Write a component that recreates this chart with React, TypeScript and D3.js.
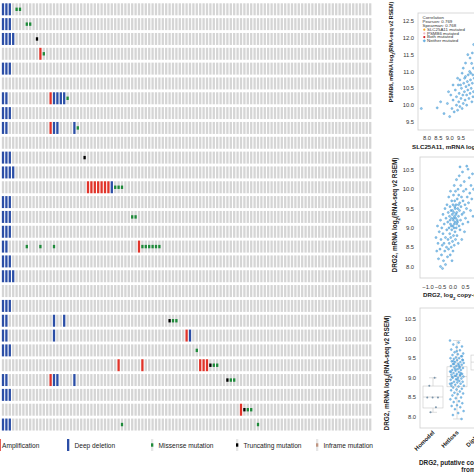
import React from "react";
import * as d3 from "d3";

const N_ROWS = 29;
const N_COLS = 109;

// oncoprint: columns altered in each gene row
const deepDeletion: number[][] = [
  [0, 1, 2], [0, 1, 2], [0, 1, 2, 3], [], [0, 1, 2], [], [0, 1, 15, 16, 17, 18], [0, 1, 2],
  [0, 1, 15, 16, 21], [], [0, 1, 2], [0, 1, 2, 3], [32], [0, 1, 2], [0, 1, 2], [0, 1, 2],
  [0, 1], [0, 1, 2], [0, 1, 2, 3], [], [0, 1, 2], [0, 1, 15, 18], [0, 1, 15, 55], [0, 1, 2],
  [], [0, 1, 15, 16, 21], [0, 1, 2], [], [0, 1, 2],
];
const amplification: number[][] = [
  [], [], [], [11], [], [], [14], [], [14], [], [], [], [25, 26, 27, 28, 29, 30, 31], [], [], [],
  [40], [], [], [], [], [], [54], [], [34, 41, 58, 59, 60], [14], [], [70], [],
];
const missense: number[][] = [
  [4, 5], [7, 8], [], [12], [], [], [19], [], [22], [], [], [], [33, 34, 35], [], [38, 39], [],
  [7, 11, 15, 41, 42, 43, 44, 45, 46], [], [], [], [], [50, 51], [], [57], [62, 63], [67, 68], [], [72, 73], [35, 75],
];
const truncating: number[][] = [
  [], [], [10], [], [], [], [], [], [], [], [24], [], [], [], [], [],
  [], [], [], [], [], [49], [], [], [61], [66], [], [71], [],
];

const legendLabels = ["Amplification", "Deep deletion", "Missense mutation", "Truncating mutation", "Inframe mutation"];

// panel 1: SLC25A11 vs PSMB6 mRNA
const psmb6Points: [number, number][] = [
  [7.75, 9.9], [8.45, 9.92], [8.6, 10.1], [8.75, 9.75], [8.9, 10.05], [9.0, 9.66], [9.05, 10.3], [9.1, 9.9],
  [9.15, 10.15], [9.2, 9.8], [9.25, 10.45], [9.3, 10.0], [9.3, 10.25], [9.35, 9.85], [9.38, 10.6], [9.4, 10.1],
  [9.42, 10.35], [9.45, 9.96], [9.45, 10.75], [9.5, 10.2], [9.52, 10.5], [9.55, 9.9], [9.58, 10.3], [9.6, 10.05],
  [9.62, 10.65], [9.65, 10.4], [9.68, 10.15], [9.7, 10.85], [9.72, 10.55], [9.75, 10.0], [9.75, 10.3], [9.78, 10.7],
  [9.8, 10.45], [9.82, 10.9], [9.85, 10.2], [9.85, 10.6], [9.88, 11.0], [9.9, 10.35], [9.92, 10.75], [9.95, 10.5],
  [9.97, 11.24], [9.98, 10.1], [10.0, 10.65], [10.02, 10.9], [10.05, 10.4], [10.05, 11.1], [10.08, 10.8], [9.6, 11.1],
  [9.9, 11.4], [9.35, 10.8], [9.15, 10.6], [8.95, 10.4], [9.55, 10.95], [9.7, 11.25], [10.0, 11.55], [10.06, 11.8],
  [9.8, 11.5], [10.03, 10.25], [9.93, 10.95], [9.66, 10.8], [9.48, 10.6],
];
const psmb6YTicks = [9.5, 10.0, 10.5, 11.0, 11.5, 12.0, 12.5];
const slcXTicks = [8.0, 8.5, 9.0, 9.5];
const corrLines = ["Correlation", "Pearson: 0.769", "Spearman: 0.768"];
const mutLegend = ["SLC25A11 mutated", "PSMB6 mutated", "Both mutated", "Neither mutated"];

// panel 2: DRG2 copy number vs DRG2 mRNA
const drg2Points: [number, number][] = [
  [-0.68, 8.75], [-0.65, 8.4], [-0.62, 9.05], [-0.6, 8.6], [-0.58, 8.2], [-0.55, 8.9], [-0.52, 8.45], [-0.5, 9.2],
  [-0.5, 8.0], [-0.48, 8.7], [-0.46, 8.3], [-0.45, 9.0], [-0.43, 8.55], [-0.42, 7.95], [-0.4, 9.35], [-0.4, 8.85],
  [-0.38, 8.15], [-0.36, 8.6], [-0.35, 9.1], [-0.33, 8.4], [-0.32, 9.5], [-0.3, 8.75], [-0.3, 8.05], [-0.28, 9.25],
  [-0.26, 8.5], [-0.25, 8.95], [-0.24, 9.6], [-0.22, 8.25], [-0.21, 9.15], [-0.2, 8.7], [-0.19, 9.4], [-0.18, 8.45],
  [-0.17, 9.8], [-0.16, 9.0], [-0.15, 8.6], [-0.14, 9.3], [-0.13, 8.85], [-0.12, 9.55], [-0.11, 8.3], [-0.1, 9.1],
  [-0.1, 9.95], [-0.09, 8.75], [-0.08, 9.45], [-0.07, 8.5], [-0.06, 9.25], [-0.05, 9.7], [-0.05, 8.95], [-0.04, 8.15],
  [-0.03, 9.35], [-0.02, 8.65], [-0.01, 9.05], [0.0, 9.6], [0.0, 8.4], [0.01, 9.2], [0.02, 9.85], [0.02, 8.8],
  [0.03, 9.4], [0.04, 9.0], [0.05, 10.1], [0.05, 8.55], [0.06, 9.3], [0.07, 9.7], [0.08, 8.9], [0.08, 9.15],
  [0.09, 9.5], [0.1, 8.7], [0.1, 9.95], [0.11, 9.25], [0.12, 9.6], [0.13, 9.0], [0.14, 10.25], [0.15, 9.4],
  [0.16, 8.8], [0.17, 9.75], [0.18, 9.15], [0.19, 9.5], [0.2, 10.0], [0.21, 8.6], [0.22, 9.3], [0.23, 9.85],
  [0.24, 9.05], [0.25, 10.35], [0.26, 9.45], [0.27, 9.65], [0.28, 8.95], [0.28, 10.58], [0.3, 9.2], [0.31, 10.1],
  [0.32, 9.55], [0.34, 9.8], [0.35, 8.7], [0.36, 9.35], [0.38, 10.45], [0.39, 9.1], [0.4, 9.7], [0.42, 9.95],
  [0.43, 9.4], [0.45, 10.2], [0.46, 8.9], [0.48, 9.6], [0.5, 9.25], [0.52, 10.0], [0.54, 9.5], [0.55, 10.6],
  [0.57, 9.8], [0.6, 9.15], [0.6, 10.52], [0.62, 9.65], [0.65, 10.3], [0.67, 9.9], [0.7, 9.45], [0.72, 10.1],
  [0.75, 9.75], [0.78, 10.4], [0.8, 9.3], [0.82, 10.0], [-0.07, 9.05], [0.03, 9.25], [0.12, 9.35], [0.17, 9.2],
  [-0.02, 9.45], [0.07, 9.55], [0.15, 9.1], [0.22, 9.6], [-0.12, 9.2], [0.05, 9.1],
];
const drg2YTicks = [8.0, 8.5, 9.0, 9.5, 10.0, 10.5];
const cnXTicks = ["-1.0", "-0.5", "0.0", "0.5"];

// panel 3: DRG2 mRNA by GISTIC call
const cnaCategories = ["Homodel", "Hetloss", "Diploid"];
const homodelValues = [9.0, 8.8, 8.5, 8.5, 8.5, 8.25, 8.12];
const hetlossValues = [
  9.95, 9.9, 9.85, 9.8, 9.78, 9.72, 9.7, 9.65, 9.62, 9.6, 9.58, 9.55, 9.52, 9.5, 9.5, 9.48, 9.46, 9.45, 9.42, 9.4,
  9.4, 9.38, 9.36, 9.35, 9.33, 9.3, 9.3, 9.28, 9.26, 9.25, 9.22, 9.2, 9.2, 9.18, 9.16, 9.15, 9.12, 9.1, 9.1, 9.08,
  9.06, 9.05, 9.03, 9.0, 9.0, 8.98, 8.96, 8.95, 8.92, 8.9, 8.9, 8.88, 8.86, 8.85, 8.82, 8.8, 8.78, 8.75, 8.72, 8.7,
  8.68, 8.65, 8.62, 8.6, 8.58, 8.55, 8.5, 8.48, 8.45, 8.4, 8.38, 8.35, 8.3, 8.28, 8.25, 8.2, 8.15, 8.1, 8.05, 7.95,
  9.05, 9.15, 9.25, 9.35, 9.45, 8.95, 9.02, 9.12, 9.22, 8.85, 9.32, 9.42, 9.55, 9.68, 8.8, 9.08,
];
// [low whisker, q1, median, q3, high whisker]
const boxStats: number[][] = [
  [8.12, 8.23, 8.51, 8.79, 9.0],
  [7.95, 8.77, 9.03, 9.28, 9.95],
  [8.6, 9.2, 9.4, 9.58, 10.3],
];

const FONT = "'Liberation Sans', Arial, sans-serif";
const GRAY = "#d5d5d5";
const BLUE = "#2b4ea6";
const RED = "#e0342a";
const GREEN = "#1e8a3a";
const FRAME = "#cfcfcf";
const PT_FILL = "#6cb8e8";
const PT_STROKE = "#2a7fc2";

const Log2 = () => (
  <>
    log<tspan baselineShift="sub" fontSize="70%">2</tspan>
  </>
);

export default function App() {
  const colX = d3.scaleLinear().domain([0, N_COLS]).range([1.85, 1.85 + 3.4 * N_COLS]);
  const rowY = d3.scaleLinear().domain([0, N_ROWS]).range([3.3, 3.3 + 14.83 * N_ROWS]);
  const barW = 2.3;
  const barH = 12;
  const mutH = 3.4;

  const cells: JSX.Element[] = [];
  d3.range(N_ROWS).forEach((r) => {
    d3.range(N_COLS).forEach((c) => {
      let fill = GRAY;
      if (deepDeletion[r].includes(c)) fill = BLUE;
      if (amplification[r].includes(c)) fill = RED;
      cells.push(<rect key={`g${r}-${c}`} x={colX(c)} y={rowY(r)} width={barW} height={barH} fill={fill} />);
    });
    missense[r].forEach((c) =>
      cells.push(<rect key={`m${r}-${c}`} x={colX(c)} y={rowY(r) + (barH - mutH) / 2} width={barW} height={mutH} fill={GREEN} />)
    );
    truncating[r].forEach((c) =>
      cells.push(<rect key={`t${r}-${c}`} x={colX(c)} y={rowY(r) + (barH - mutH) / 2} width={barW} height={mutH} fill="#000" />)
    );
  });

  // legend
  const legY = 439;
  const legX = [-1.5, 67, 151, 236, 316];
  const legColor = [RED, BLUE, GREEN, "#000", "#a0522d"];

  // panel 1 scales
  const x1 = d3.scaleLinear().domain([8, 9.5]).range([427, 461]);
  const y1 = d3.scaleLinear().domain([9.5, 12.5]).range([122, 21]);
  // panel 2 scales
  const x2 = d3.scaleLinear().domain([-1, 0]).range([428, 453]);
  const y2 = d3.scaleLinear().domain([8, 10.5]).range([266.5, 170]);
  // panel 3 scales
  const x3 = d3.scaleBand().domain(cnaCategories).range([421, 493]);
  const y3 = d3.scaleLinear().domain([8, 10.5]).range([417, 319]);
  const boxW = 20;
  const jitter = (i: number) => ((i * 0.618034) % 1) - 0.5;

  const tickStyle = { fontFamily: FONT, fontSize: 5.8, fill: "#333" };
  const labelStyle = { fontFamily: FONT, fontWeight: 700, fill: "#222" };

  return (
    <svg width={474} height={474} style={{ position: "absolute", left: 0, top: 0, background: "#fff" }}>
      <g>{cells}</g>

      <g fontFamily={FONT} fontSize={6.6} fill="#222">
        {legendLabels.map((lab, i) => (
          <g key={lab}>
            {i < 2 ? (
              <rect x={legX[i]} y={legY} width={barW} height={barH} fill={legColor[i]} />
            ) : (
              <>
                <rect x={legX[i]} y={legY} width={barW} height={barH} fill={GRAY} opacity={0.6} />
                <rect x={legX[i]} y={legY + (barH - mutH) / 2} width={barW} height={mutH} fill={legColor[i]} opacity={i === 4 ? 0.55 : 1} />
              </>
            )}
            <text x={i === 0 ? 2 : legX[i] + 7.5} y={legY + 8.8}>{lab}</text>
          </g>
        ))}
      </g>

      {/* panel 1 */}
      <rect x={418} y={13} width={120} height={117} fill="#fff" stroke={FRAME} strokeWidth={0.8} />
      {psmb6YTicks.map((t) => (
        <text key={t} x={414} y={y1(t)} dy="0.35em" textAnchor="end" {...tickStyle}>{t.toFixed(1)}</text>
      ))}
      {slcXTicks.map((t) => (
        <text key={t} x={x1(t)} y={140} textAnchor="middle" {...tickStyle}>{t.toFixed(1)}</text>
      ))}
      <text transform={`translate(393,52) rotate(-90)`} textAnchor="middle" fontSize={5.4} {...labelStyle}>
        PSMB6, mRNA <Log2 />(RNA-seq v2 RSEM)
      </text>
      <text x={412} y={149} fontSize={6.2} {...labelStyle}>
        SLC25A11, mRNA <Log2 />(RNA-seq v2 RSEM)
      </text>
      {psmb6Points.map(([a, b], i) => (
        <circle key={i} cx={x1(a)} cy={y1(b)} r={1.05} fill={PT_FILL} fillOpacity={0.75} stroke={PT_STROKE} strokeWidth={0.35} />
      ))}
      <g fontFamily={FONT} fontSize={4.4} fill="#333">
        {corrLines.map((l, i) => (
          <text key={l} x={422.5} y={18.5 + i * 4}>{l}</text>
        ))}
        {mutLegend.map((l, i) => (
          <g key={l}>
            <circle cx={424.3} cy={31 + i * 3.7 - 1.3} r={1.1} fill={["#f5a623", "#f2b8c6", "#d7191c", PT_FILL][i]} stroke={i === 3 ? PT_STROKE : "none"} strokeWidth={0.3} />
            <text x={427} y={31 + i * 3.7}>{l}</text>
          </g>
        ))}
      </g>

      {/* panel 2 */}
      <rect x={420} y={157} width={120} height={121} fill="#fff" stroke={FRAME} strokeWidth={0.8} />
      {drg2YTicks.map((t) => (
        <text key={t} x={414} y={y2(t)} dy="0.35em" textAnchor="end" {...tickStyle}>{t.toFixed(1)}</text>
      ))}
      {cnXTicks.map((t) => (
        <text key={t} x={x2(+t)} y={289} textAnchor="middle" {...tickStyle}>{t.replace("-", "\u2212")}</text>
      ))}
      <text transform={`translate(397,215) rotate(-90)`} textAnchor="middle" fontSize={6.4} {...labelStyle}>
        DRG2, mRNA <Log2 />(RNA-seq v2 RSEM)
      </text>
      <text x={423} y={297} fontSize={6.2} {...labelStyle}>
        DRG2, <Log2 /> copy-number values
      </text>
      {drg2Points.map(([a, b], i) => (
        <circle key={i} cx={x2(a)} cy={y2(b)} r={1.05} fill={PT_FILL} fillOpacity={0.75} stroke={PT_STROKE} strokeWidth={0.35} />
      ))}

      {/* panel 3 */}
      <rect x={420} y={308} width={120} height={120} fill="#fff" stroke={FRAME} strokeWidth={0.8} />
      {drg2YTicks.map((t) => (
        <text key={t} x={416} y={y3(t)} dy="0.35em" textAnchor="end" {...tickStyle}>{t.toFixed(1)}</text>
      ))}
      {cnaCategories.map((c, i) => {
        const cx = (x3(c) as number) + x3.bandwidth() / 2;
        const [lo, q1, med, q3, hi] = boxStats[i];
        return (
          <g key={c} stroke="#c8c8c8" strokeWidth={0.6} fill="none">
            <line x1={cx} x2={cx} y1={y3(lo)} y2={y3(q1)} />
            <line x1={cx} x2={cx} y1={y3(q3)} y2={y3(hi)} />
            <line x1={cx - 4} x2={cx + 4} y1={y3(lo)} y2={y3(lo)} />
            <line x1={cx - 4} x2={cx + 4} y1={y3(hi)} y2={y3(hi)} />
            <rect x={cx - boxW / 2} y={y3(q3)} width={boxW} height={y3(q1) - y3(q3)} />
            <line x1={cx - boxW / 2} x2={cx + boxW / 2} y1={y3(med)} y2={y3(med)} />
          </g>
        );
      })}
      {homodelValues.map((v, i) => {
        const cx = (x3("Homodel") as number) + x3.bandwidth() / 2;
        return <circle key={`h${i}`} cx={cx + jitter(i + 1) * 14} cy={y3(v)} r={1} fill="#7b95ab" />;
      })}
      {hetlossValues.map((v, i) => {
        const cx = (x3("Hetloss") as number) + x3.bandwidth() / 2;
        return (
          <circle key={`e${i}`} cx={cx + jitter(i) * 14} cy={y3(v)} r={1} fill={PT_FILL} fillOpacity={0.8} stroke={PT_STROKE} strokeWidth={0.3} />
        );
      })}
      {cnaCategories.map((c) => {
        const cx = (x3(c) as number) + x3.bandwidth() / 2;
        return (
          <text key={c} transform={`translate(${cx + 2},${433}) rotate(-45)`} textAnchor="end" fontSize={6} {...labelStyle}>
            {c}
          </text>
        );
      })}
      <text transform={`translate(389,373) rotate(-90)`} textAnchor="middle" fontSize={6.4} {...labelStyle}>
        DRG2, mRNA <Log2 />(RNA-seq v2 RSEM)
      </text>
      <text x={480} y={465} textAnchor="middle" fontSize={6.4} {...labelStyle}>DRG2, putative copy-number alterations</text>
      <text x={480} y={472} textAnchor="middle" fontSize={6.4} {...labelStyle}>from GISTIC</text>
    </svg>
  );
}
